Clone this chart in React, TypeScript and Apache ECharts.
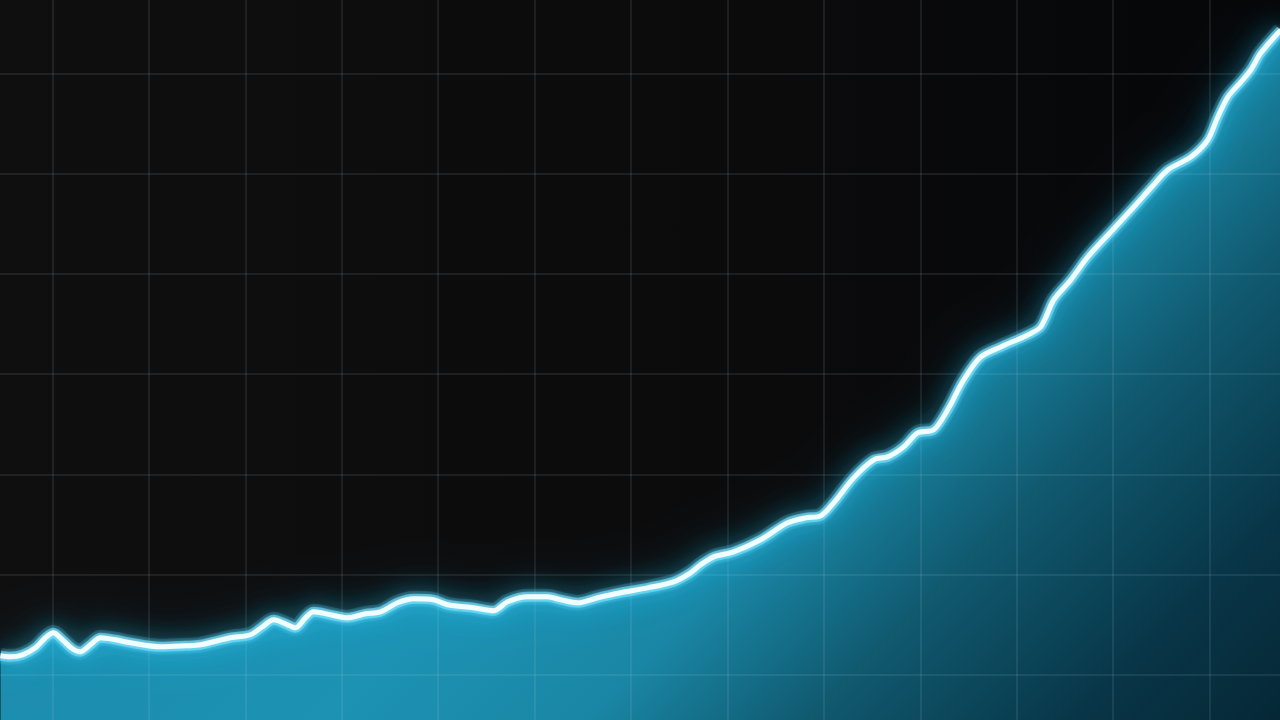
import React, { useEffect, useRef } from "react";
import * as echarts from "echarts";

const xValues = [
  4.61, 5.64, 6.89, 8.24, 9.27, 10.1, 11.04, 12.07, 12.9, 13.94, 14.98, 16.54, 18.09, 21.2, 23.8, 25.35,
  28.46, 30.54, 31.78, 32.93, 34.17, 35.21, 36.24, 37.07, 38.84, 40.6, 42.47, 44.02, 45.79, 47.45,
  49.52, 50.98, 53.67, 55.75, 57.2, 59.27, 61.35, 62.7, 64.46, 66.54, 68.92, 71.72, 74.42, 76.18,
  77.22, 78.57, 80.64, 83.44, 86.24, 88.11, 89.67, 91.02, 93.09, 95.17, 96.62, 98.28, 99.73, 101.39,
  102.84, 104.5, 106.27, 108.34, 111.14, 112.49, 113.84, 115.6, 117.37, 119.75, 122.14, 123.9, 125.66,
  128.05, 129.81, 130.85, 131.89, 133.24, 134.27, 135.31, 137.39,
];

const yValues = [
  11.89, 11.79, 11.99, 12.69, 13.69, 14.19, 13.49, 12.59, 12.29, 12.99, 13.69, 13.49, 13.19, 12.79, 12.89, 12.99,
  13.69, 13.99, 14.79, 15.48, 15.08, 14.69, 15.68, 16.28, 15.98, 15.68, 16.08, 16.28, 17.18, 17.58,
  17.48, 16.98, 16.68, 16.38, 17.28, 17.78, 17.78, 17.48, 17.18, 17.68, 18.18, 18.67, 19.27, 20.17,
  20.97, 21.76, 22.26, 23.46, 25.15, 25.65, 25.85, 27.15, 29.64, 31.44, 31.73, 32.73, 34.13, 34.43,
  36.42, 39.41, 41.7, 42.7, 43.9, 44.7, 47.39, 49.38, 51.68, 54.17, 56.66, 58.55, 60.35,
  61.64, 63.34, 65.63, 67.63, 69.12, 70.32, 72.01, 74.31,
];

const xRange = [0, 140];
const yRange = [0, 80];
const gridStep = 10;

export default function App() {
  const ref = useRef<HTMLDivElement>(null);

  useEffect(() => {
    if (!ref.current) return;
    const chart = echarts.init(ref.current, null, { renderer: "svg" });
    const data = xValues.map((x, i) => [x, yValues[i]]);
    const splitLine = {
      show: true,
      showMinLine: false,
      showMaxLine: false,
      lineStyle: { color: "rgba(200,220,228,0.13)", width: 1.5 },
    };
    const hidden = {
      axisLabel: { show: false },
      axisLine: { show: false },
      axisTick: { show: false },
    };
    const lineBase = { type: "line", data, smooth: 0.3, symbol: "none" };
    chart.setOption({
      animation: false,
      backgroundColor: "transparent",
      grid: { left: 0, right: 0, top: 0, bottom: 0, containLabel: false },
      xAxis: {
        type: "value",
        min: xRange[0],
        max: xRange[1],
        interval: gridStep,
        ...hidden,
        splitLine,
        z: 2,
      },
      yAxis: {
        type: "value",
        min: yRange[0],
        max: yRange[1],
        interval: gridStep,
        ...hidden,
        splitLine,
        z: 2,
      },
      series: [
        {
          ...lineBase,
          z: 1,
          lineStyle: { width: 0 },
          areaStyle: {
            origin: "start",
            opacity: 1,
            color: {
              type: "linear",
              x: 344,
              y: 327,
              x2: 1094,
              y2: 1077,
              global: true,
              colorStops: [
                { offset: 0, color: "#1c8cad" },
                { offset: 0.3, color: "#1d92b3" },
                { offset: 0.47, color: "#1a86a5" },
                { offset: 0.62, color: "#10596f" },
                { offset: 0.8, color: "#083547" },
                { offset: 1, color: "#05212d" },
              ],
            },
          },
        },
        {
          ...lineBase,
          z: 3,
          lineStyle: {
            width: 16,
            color: "rgba(40,195,245,0.2)",
            shadowBlur: 50,
            shadowColor: "rgba(0,190,255,1)",
          },
        },
        {
          ...lineBase,
          z: 4,
          lineStyle: {
            width: 10,
            color: "rgba(100,220,255,0.6)",
            shadowBlur: 24,
            shadowColor: "rgba(40,210,255,1)",
          },
        },
        {
          ...lineBase,
          z: 5,
          lineStyle: {
            width: 5,
            color: "#f0feff",
            shadowBlur: 6,
            shadowColor: "#9ff0ff",
          },
        },
      ],
    });
    return () => chart.dispose();
  }, []);

  return (
    <div
      ref={ref}
      style={{
        position: "fixed",
        left: -44.4,
        top: -27.1,
        width: 1349.6,
        height: 802.4,
        background: "linear-gradient(90deg, #0f0f10 0%, #0b0b0c 60%, #050608 100%)",
      }}
    />
  );
}
